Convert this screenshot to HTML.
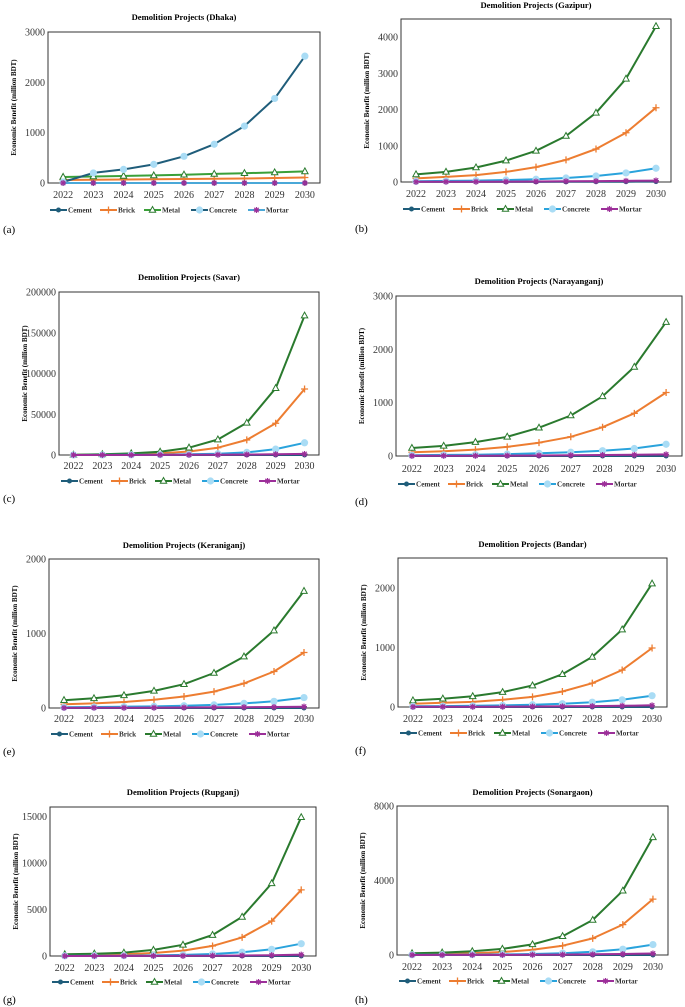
<!DOCTYPE html>
<html><head><meta charset="utf-8">
<style>
html,body{margin:0;padding:0;background:#fff;}
svg{display:block;font-family:"Liberation Serif",serif;}
</style></head>
<body>
<svg id="fig" width="685" height="1007" viewBox="0 0 685 1007" xmlns="http://www.w3.org/2000/svg"></svg>
<script>
const years = ["2022","2023","2024","2025","2026","2027","2028","2029","2030"];
const seriesNames = ["Cement","Brick","Metal","Concrete","Mortar"];
// Dhaka
const dhakaCement = [0,0,0,0,0,0,0,0,0];
const dhakaBrick = [60,65,70,75,80,85,90,100,110];
const dhakaMetal = [120,130,140,150,165,180,195,210,230];
const dhakaConcrete = [20,200,270,370,530,770,1130,1680,2520];
const dhakaMortar = [0,0,0,0,0,0,0,0,0];
const dhakaTicks = [0,1000,2000,3000];
// Gazipur
const gazCement = [2,2,3,3,4,5,6,8,10];
const gazBrick = [100,140,190,280,410,610,910,1360,2050];
const gazMetal = [210,280,400,590,860,1270,1910,2850,4300];
const gazConcrete = [20,30,40,55,75,110,165,250,380];
const gazMortar = [5,6,8,10,14,20,25,30,40];
const gazTicks = [0,1000,2000,3000,4000];
// Savar
const savCement = [0,0,0,0,0,0,0,0,0];
const savBrick = [150,450,1000,2000,4300,9000,18500,39000,81000];
const savMetal = [300,900,2000,4000,9000,19000,39500,82000,171000];
const savConcrete = [30,100,200,400,800,1500,3200,7200,15000];
const savMortar = [10,30,60,100,200,350,600,900,1300];
const savTicks = [0,50000,100000,150000,200000];
// Narayanganj
const narCement = [0,0,0,0,0,0,0,0,0];
const narBrick = [70,90,120,170,250,360,540,800,1190];
const narMetal = [150,190,260,360,530,760,1120,1670,2510];
const narConcrete = [15,20,25,35,50,70,100,140,220];
const narMortar = [3,4,5,7,10,14,18,22,30];
const narTicks = [0,1000,2000,3000];
// Keraniganj
const kerCement = [0,0,0,0,0,0,0,0,0];
const kerBrick = [50,62,80,110,155,220,330,490,745];
const kerMetal = [105,130,170,230,320,470,690,1040,1570];
const kerConcrete = [10,13,17,22,30,42,62,90,140];
const kerMortar = [2,3,4,5,7,9,11,14,18];
const kerTicks = [0,1000,2000];
// Bandar
const banCement = [0,0,0,0,0,0,0,0,0];
const banBrick = [55,70,85,120,170,260,400,620,990];
const banMetal = [110,140,180,250,360,550,840,1300,2070];
const banConcrete = [12,15,20,27,38,55,80,120,190];
const banMortar = [3,4,5,6,8,11,15,20,28];
const banTicks = [0,1000,2000];
// Rupganj
const rupCement = [0,0,0,0,0,0,0,0,0];
const rupBrick = [90,130,180,320,580,1080,2000,3750,7100];
const rupMetal = [180,250,350,650,1200,2250,4200,7800,14900];
const rupConcrete = [15,25,35,65,120,220,400,720,1320];
const rupMortar = [3,5,8,12,20,35,55,90,150];
const rupTicks = [0,5000,10000,15000];
// Sonargaon
const sonCement = [0,0,0,0,0,0,0,0,0];
const sonBrick = [40,60,95,160,280,500,890,1630,3000];
const sonMetal = [90,130,200,330,570,1010,1880,3450,6320];
const sonConcrete = [10,14,20,30,55,95,170,310,560];
const sonMortar = [2,3,5,8,12,20,35,55,80];
const sonTicks = [0,4000,8000];

const NS = "http://www.w3.org/2000/svg";
const svg = document.getElementById("fig");
function mk(tag, parent, attrs){
  const e = document.createElementNS(NS, tag);
  for (const k in attrs) e.setAttribute(k, attrs[k]);
  parent.appendChild(e);
  return e;
}
const C = {cement:"#1f5d7a",brick:"#ed7d31",metal:"#2a7a2e",concLine:"#2aa3dc",concFill:"#a9dcf5",mortar:"#9c2f99"};

function marker(g, kind, x, y){
  let m;
  if (kind==="Cement"){ m = mk("circle", g, {cx:x, cy:y, r:2.5, fill:C.cement}); }
  else if (kind==="Brick"){ m = mk("path", g, {d:`M${x-3.5},${y}H${x+3.5}M${x},${y-3.5}V${y+3.5}`, stroke:C.brick, "stroke-width":1.3, fill:"none"}); }
  else if (kind==="Metal"){ m = mk("path", g, {d:`M${x},${y-3.5}L${x+3.2},${y+2.3}L${x-3.2},${y+2.3}Z`, stroke:C.metal, "stroke-width":1, fill:"#fff"}); }
  else if (kind==="Concrete"){ m = mk("circle", g, {cx:x, cy:y, r:3.6, fill:C.concFill}); }
  else { m = mk("path", g, {d:`M${x-3},${y}H${x+3}M${x},${y-3}V${y+3}M${x-2.2},${y-2.2}L${x+2.2},${y+2.2}M${x+2.2},${y-2.2}L${x-2.2},${y+2.2}`, stroke:C.mortar, "stroke-width":1.2}); }
  return m;
}

function panel(p){
  const g = mk("g", svg, {});
  
  
  const L=p.x0, R=p.x1, T=p.y0, B=p.y1, W=R-L;
  const band = W/years.length;
  const xs = i => L + band*(i+0.5);
  const ys = v => B - (v/p.max)*(B-T);
  const t = mk("text", g, {x:(L+R)/2, y:p.ty, "text-anchor":"middle", "font-size":8.6, "font-weight":"bold"});
  t.textContent = "Demolition Projects (" + p.name + ")";
  
  
  const fr = mk("rect", g, {x:L, y:T, width:W, height:B-T, fill:"none", stroke:"#333", "stroke-width":1});
  
  
  p.ticks.forEach(v=>{
    const tl = mk("text", g, {x:L-3, y:ys(v)+3.5, "text-anchor":"end", "font-size":10, fill:"#333"});
    tl.textContent = String(v);
    
    
  });
  years.forEach((yr,i)=>{
    const xl = mk("text", g, {x:xs(i), y:p.xly, "text-anchor":"middle", "font-size":10, fill:"#333"});
    xl.textContent = yr;
    
    
  });
  const yt = mk("text", g, {x:0, y:0, "text-anchor":"middle", "font-size":7, "font-weight":"bold", transform:`translate(${L-32},${(T+B)/2}) rotate(-90)`});
  yt.textContent = "Economic Benefit (million BDT)";
  
  
  const lineCols = p.lineCols || [C.cement,C.brick,C.metal,C.concLine,C.mortar];
  p.series.forEach((vals,si)=>{
    const sg = mk("g", g, {});
    
    
    const d = vals.map((v,i)=>(i?"L":"M")+xs(i).toFixed(1)+","+ys(v).toFixed(1)).join("");
    const ln = mk("path", sg, {d:d, fill:"none", stroke:lineCols[si], "stroke-width":2, "stroke-linejoin":"round"});
    
    
    vals.forEach((v,i)=>{
      const m = marker(sg, seriesNames[si], xs(i), ys(v));
      
      
    });
  });
  const offs=[2,52,96,143,200];
  seriesNames.forEach((n,si)=>{
    const lg = mk("g", g, {});
    
    
    const lx = L+offs[si], ly = p.ly;
    mk("line", lg, {x1:lx, y1:ly, x2:lx+17, y2:ly, stroke:lineCols[si], "stroke-width":2});
    marker(lg, n, lx+8.5, ly);
    const lt = mk("text", lg, {x:lx+18, y:ly+2.6, "font-size":7.2, "font-weight":"bold", fill:"#333"});
    lt.textContent = n;
  });
  const pl = mk("text", g, {x:p.lx, y:p.lly, "font-size":11});
  pl.textContent = p.letter;
  
  
}

panel({id:"dhaka",name:"Dhaka",x0:48,x1:320,y0:32,y1:183,max:3000,ticks:dhakaTicks,ty:20,xly:198,ly:210,lx:3,lly:233,letter:"(a)",
  series:[dhakaCement,dhakaBrick,dhakaMetal,dhakaConcrete,dhakaMortar],
  lineCols:["#1f5d7a",C.brick,"#3aa039","#1f5d7a","#4aa8d8"]});
panel({id:"gazipur",name:"Gazipur",x0:401,x1:671,y0:19,y1:182,max:4500,ticks:gazTicks,ty:8,xly:197,ly:209,lx:355,lly:232,letter:"(b)",
  series:[gazCement,gazBrick,gazMetal,gazConcrete,gazMortar]});
panel({id:"savar",name:"Savar",x0:59,x1:319,y0:292,y1:455,max:200000,ticks:savTicks,ty:280,xly:469,ly:481,lx:3,lly:502,letter:"(c)",
  series:[savCement,savBrick,savMetal,savConcrete,savMortar]});
panel({id:"narayanganj",name:"Narayanganj",x0:396,x1:682,y0:296,y1:456,max:3000,ticks:narTicks,ty:284,xly:472,ly:484,lx:355,lly:505,letter:"(d)",
  series:[narCement,narBrick,narMetal,narConcrete,narMortar]});
panel({id:"keraniganj",name:"Keraniganj",x0:49,x1:319,y0:559,y1:708,max:2000,ticks:kerTicks,ty:548,xly:722,ly:734,lx:3,lly:755,letter:"(e)",
  series:[kerCement,kerBrick,kerMetal,kerConcrete,kerMortar]});
panel({id:"bandar",name:"Bandar",x0:398,x1:667,y0:558,y1:707,max:2500,ticks:banTicks,ty:547,xly:722,ly:733,lx:355,lly:754,letter:"(f)",
  series:[banCement,banBrick,banMetal,banConcrete,banMortar]});
panel({id:"rupganj",name:"Rupganj",x0:50,x1:316,y0:807,y1:956,max:16000,ticks:rupTicks,ty:795,xly:971,ly:982,lx:3,lly:1003,letter:"(g)",
  series:[rupCement,rupBrick,rupMetal,rupConcrete,rupMortar]});
panel({id:"sonargaon",name:"Sonargaon",x0:397,x1:668,y0:806,y1:955,max:8000,ticks:sonTicks,ty:795,xly:970,ly:981,lx:355,lly:1003,letter:"(h)",
  series:[sonCement,sonBrick,sonMetal,sonConcrete,sonMortar]});
</script>
</body></html>
